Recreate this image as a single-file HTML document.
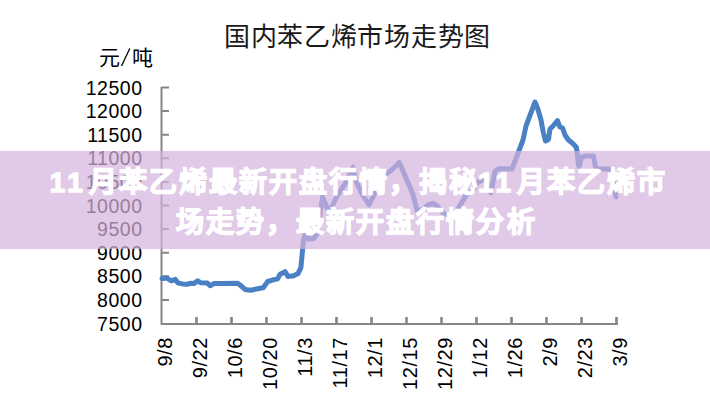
<!DOCTYPE html>
<html lang="zh-CN">
<head>
<meta charset="utf-8">
<style>
html,body{margin:0;padding:0;}
body{width:710px;height:400px;overflow:hidden;background:#fff;position:relative;font-family:"Liberation Sans",sans-serif;}
.t{position:absolute;white-space:nowrap;}
#title{left:224px;top:16px;font-size:26px;color:#1a1a1a;letter-spacing:0.7px;}
.u{font-size:21px;color:#000;}
.yl{position:absolute;right:567.5px;font-size:19.5px;letter-spacing:0.5px;color:#000;line-height:20px;height:20px;}
.xl{position:absolute;font-size:20px;letter-spacing:0.6px;color:#000;line-height:20px;height:20px;transform-origin:0 0;transform:rotate(-90deg);text-align:right;width:60px;}
#banner{position:absolute;left:0;top:151px;width:710px;height:98px;background:rgba(212,178,222,0.7);}
#btxt{position:absolute;left:0;top:151px;width:710px;height:97px;color:#fff;font-weight:bold;font-size:28px;line-height:40px;text-align:left;letter-spacing:2.05px;-webkit-text-stroke:1.3px #fff;}
svg{position:absolute;left:0;top:0;}
.dg{letter-spacing:3.6px;padding-left:1px;margin-right:2.5px;}
.dg2{letter-spacing:3.6px;margin-left:-1.5px;margin-right:2.5px;}
</style>
</head>
<body>
<div id="title" class="t">国内苯乙烯市场走势图</div>
<div class="t u" style="left:99px;top:41px">元</div><svg width="710" height="400" style="position:absolute;left:0;top:0"><path d="M129.8 48.5 L121.5 66" stroke="#000" stroke-width="1.3"/></svg><div class="t u" style="left:132px;top:41px">吨</div>
<div class="yl" style="top:77.5px">12500</div>
<div class="yl" style="top:101.1px">12000</div>
<div class="yl" style="top:124.7px">11500</div>
<div class="yl" style="top:148.3px">11000</div>
<div class="yl" style="top:171.9px">10500</div>
<div class="yl" style="top:195.5px">10000</div>
<div class="yl" style="top:219.1px">9500</div>
<div class="yl" style="top:242.7px">9000</div>
<div class="yl" style="top:266.3px">8500</div>
<div class="yl" style="top:289.9px">8000</div>
<div class="yl" style="top:313.5px">7500</div>
<svg width="710" height="400" viewBox="0 0 710 400">
<g stroke="#868686" stroke-width="2" fill="none">
<path d="M161.5 87 V324 H618"/>
<path d="M161.5 87.5H169 M161.5 111.1H169 M161.5 134.7H169 M161.5 158.3H169 M161.5 181.9H169 M161.5 205.5H169 M161.5 229.1H169 M161.5 252.7H169 M161.5 276.3H169 M161.5 299.9H169"/>
<path stroke-width="2.6" d="M196.5 317V324 M231.5 317V324 M266.5 317V324 M301.5 317V324 M336.5 317V324 M371.5 317V324 M406.5 317V324 M441.5 317V324 M476.5 317V324 M511.5 317V324 M546.5 317V324 M581.5 317V324 M616.5 317V324"/>
</g>
<polyline fill="none" stroke="#4a80c4" stroke-width="5" stroke-linejoin="round" stroke-linecap="round" points="162,278.5 166.8,278 171.3,280.8 175.2,279.4 178,283 182.5,283.9 187,284.2 191,283.3 193.8,283.6 197.7,280.8 200.6,282.8 207.3,283 210.1,285.8 214,283.6 222,283.6 237.7,283.3 240,285 245.1,289.4 250.8,290.2 257.5,288.8 263.2,287.7 267.7,281.5 273.3,279.8 277.8,278.7 280.1,274.2 285.1,271.7 288,276.4 293.6,275.8 298.1,273.6 300.9,267.4 302,256 303.5,240 305,235 308,239 314,238.5 317.5,233 322.5,197 328,210 331,209 337,196 345,184 353,167 356,181 362,194 369,205 383.5,176 390,171.5 399.3,162.5 406,178 412.8,194 417.5,212 422.5,209 428.75,204.5 433,203.5 437.5,206.25 443,213 447.5,215 457.5,210 465.5,196 472.5,190.5 477.5,182.5 485,179 491,193 495,171 499,168.5 512,169 523,140 526,126 530.5,114 535,102 538,109.5 541,120 543.2,132 545.5,141 548.5,139.5 550,129 553.7,125.2 557.5,120.7 559.7,126.7 562.7,128.2 565,135 568,139.5 572.5,143.2 576.2,147 577,151.5 578.5,165 579.2,166.5 581.5,157.5 584.5,156 593.5,156 595,165 597,170 601,169 611,169 616,197"/>
</svg>
<div class="xl" style="left:155px;top:396.5px">9/8</div>
<div class="xl" style="left:190px;top:396.5px">9/22</div>
<div class="xl" style="left:225px;top:396.5px">10/6</div>
<div class="xl" style="left:260px;top:396.5px">10/20</div>
<div class="xl" style="left:295px;top:396.5px">11/3</div>
<div class="xl" style="left:330px;top:396.5px">11/17</div>
<div class="xl" style="left:365px;top:396.5px">12/1</div>
<div class="xl" style="left:400px;top:396.5px">12/15</div>
<div class="xl" style="left:435px;top:396.5px">12/29</div>
<div class="xl" style="left:470px;top:396.5px">1/12</div>
<div class="xl" style="left:505px;top:396.5px">1/26</div>
<div class="xl" style="left:540px;top:396.5px">2/9</div>
<div class="xl" style="left:575px;top:396.5px">2/23</div>
<div class="xl" style="left:610px;top:396.5px">3/9</div>
<div id="banner"></div>
<div id="btxt"><div style="position:absolute;left:48.5px;top:12px"><span class="dg">11</span>月苯乙烯最新开盘行情，揭秘<span class="dg2">11</span>月苯乙烯市</div><div style="position:absolute;left:176px;top:52px">场走势，最新开盘行情分析</div></div>
</body>
</html>
